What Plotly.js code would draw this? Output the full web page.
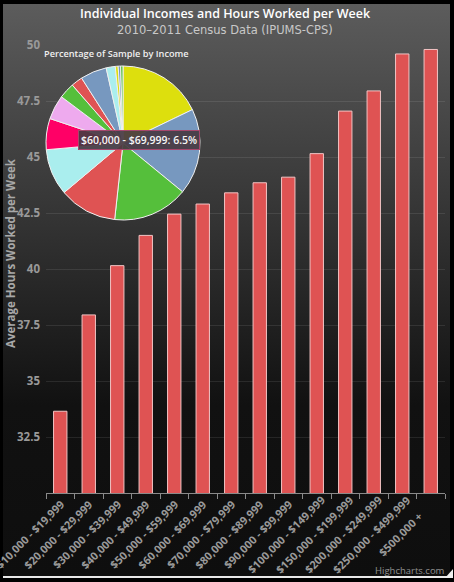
<!DOCTYPE html>
<html>
<head>
<meta charset="utf-8">
<script src="https://cdn.plot.ly/plotly-3.0.1.min.js"></script>
<style>html,body{margin:0;padding:0;background:#000;}#chart{width:454px;height:582px;}</style>
</head>
<body>
<div id="chart"></div>
<script>
// ---- data ----
var categories = ["$10,000 - $19,999","$20,000 - $29,999","$30,000 - $39,999","$40,000 - $49,999",
  "$50,000 - $59,999","$60,000 - $69,999","$70,000 - $79,999","$80,000 - $89,999","$90,000 - $99,999",
  "$100,000 - $149,999","$150,000 - $199,999","$200,000 - $249,999","$250,000 - $499,999","$500,000 +"];
var avgHours = [33.65, 37.95, 40.15, 41.5, 42.45, 42.9, 43.4, 43.85, 44.1, 45.15, 47.05, 47.95, 49.6, 49.8];
var samplePct = [17.8, 18.0, 15.75, 12.1, 9.7, 6.5, 5.1, 3.3, 2.4, 5.5, 1.9, 0.6, 0.5, 0.5];
var yTicks = [32.5, 35, 37.5, 40, 42.5, 45, 47.5, 50];
var themeColors = ["#DDDF0D","#7798BF","#55BF3B","#DF5353","#aaeeee","#ff0066","#eeaaee","#55BF3B","#DF5353","#7798BF","#aaeeee"];
var tooltipIndex = 5;

// ---- geometry helpers (pixels -> paper) ----
var W = 454, H = 582, L = 46, R = 445, T = 45, B = 493;
var pw = R - L, ph = B - T;
function fx(x){ return (x - L) / pw; }
function fy(y){ return (B - y) / ph; }

var pieColors = categories.map(function(c, i){ return themeColors[i % themeColors.length]; });

var grad = "<svg xmlns='http://www.w3.org/2000/svg' width='447' height='573' preserveAspectRatio='none'>" +
  "<defs><linearGradient id='g' x1='0' y1='0' x2='0' y2='1'>" +
  "<stop offset='0' stop-color='rgb(92,92,92)'/><stop offset='0.7' stop-color='rgb(17,17,17)'/>" +
  "<stop offset='1' stop-color='rgb(14,14,14)'/></linearGradient></defs>" +
  "<rect width='447' height='573' fill='url(#g)'/></svg>";
var gradSrc = "data:image/svg+xml;charset=utf-8," + encodeURIComponent(grad);

var FONT = "Open Sans, DejaVu Sans, sans-serif";

var bars = {
  type: "bar", x: categories, y: avgHours,
  marker: { color: "#DF5353", line: { color: "#f2c4c4", width: 1 } },
  hoverinfo: "none", showlegend: false
};

var pie = {
  type: "pie", labels: categories, values: samplePct,
  sort: false, direction: "clockwise", rotation: 0,
  marker: { colors: pieColors, line: { color: "#f0f0f0", width: 1 } },
  textinfo: "none", hoverinfo: "none", showlegend: false,
  domain: { x: [fx(45), fx(200)], y: [fy(221), fy(65)] }
};

var annotations = [
  { text: "Individual Incomes and Hours Worked per Week", xref: "paper", yref: "paper",
    x: fx(225), y: fy(14), showarrow: false, xanchor: "center", yanchor: "middle",
    font: { size: 12.5, color: "#ffffff", family: FONT, weight: 600 } },
  { text: "2010–2011 Census Data (IPUMS-CPS)", xref: "paper", yref: "paper",
    x: fx(225), y: fy(29.5), showarrow: false, xanchor: "center", yanchor: "middle",
    font: { size: 11.5, color: "#c8c8c8", family: "DejaVu Sans, sans-serif" } },
  { text: "Percentage of Sample by Income", xref: "paper", yref: "paper",
    x: fx(42), y: fy(54), showarrow: false, xanchor: "left", yanchor: "middle",
    font: { size: 9.2, color: "#f0f0f0", family: FONT, weight: 600 } },
  { text: "Average Hours Worked per Week", xref: "paper", yref: "paper",
    x: fx(10), y: fy(253), showarrow: false, textangle: -90, xanchor: "center", yanchor: "middle",
    font: { size: 11.5, color: "#a8a8a8", family: FONT, weight: "bold" } },
  { text: categories[tooltipIndex] + ": " + samplePct[tooltipIndex] + "%", xref: "paper", yref: "paper",
    x: fx(139), y: fy(139.5), showarrow: false, xanchor: "center", yanchor: "middle",
    bgcolor: "rgba(72,58,66,0.92)", bordercolor: "#a5476d", borderwidth: 1, borderpad: 2,
    font: { size: 10.5, color: "#f6f6f6", family: FONT, weight: 600 } },
  { text: "Highcharts.com", xref: "paper", yref: "paper",
    x: fx(447), y: fy(570), showarrow: false, xanchor: "right", yanchor: "middle",
    font: { size: 9.5, color: "#909090", family: FONT } }
];
// category labels, rotated, centred below each category like the original
categories.forEach(function(c){
  annotations.push({ text: c, xref: "x", yref: "paper", x: c, y: fy(534), xshift: -31,
    showarrow: false, textangle: -45, xanchor: "center", yanchor: "middle",
    font: { size: 11, color: "#9a9a9a", family: FONT, weight: "bold" } });
});

var layout = {
  width: W, height: H,
  margin: { l: L, r: W - R, t: T, b: H - B, pad: 0 },
  paper_bgcolor: "#000", plot_bgcolor: "rgba(0,0,0,0)",
  font: { family: FONT, color: "#999" },
  bargap: 0.53,
  images: [{ source: gradSrc, xref: "paper", yref: "paper", x: fx(3), y: fy(4),
    sizex: 447 / pw, sizey: 573 / ph, sizing: "stretch", xanchor: "left", yanchor: "top", layer: "below" }],
  xaxis: {
    type: "category", range: [-0.5, categories.length - 0.5],
    showline: true, linecolor: "#8a8a8a", linewidth: 1,
    ticks: "outside", tickson: "boundaries", ticklen: 5, tickcolor: "#8a8a8a",
    showticklabels: false, showgrid: false, fixedrange: true
  },
  yaxis: {
    range: [30, 50], tickvals: yTicks, ticktext: yTicks.map(String),
    showgrid: true, gridcolor: "rgba(255,255,255,0.09)", gridwidth: 1,
    zeroline: false, showline: false, ticks: "",
    tickfont: { size: 11.5, color: "#999", weight: "bold", family: FONT },
    ticklabelstandoff: 5, fixedrange: true
  },
  shapes: [
    { type: "line", xref: "paper", yref: "paper", x0: fx(3), x1: fx(451), y0: fy(577), y1: fy(577),
      line: { color: "#e8e8e8", width: 2 } },
    { type: "path", xref: "paper", yref: "paper",
      path: "M " + fx(445) + " " + fy(578) + " L " + fx(453) + " " + fy(578) + " L " + fx(453) + " " + fy(569) + " Z",
      fillcolor: "#f0f0f0", line: { width: 0 } }
  ],
  annotations: annotations
};

Plotly.newPlot("chart", [bars, pie], layout, { displayModeBar: false, staticPlot: true });
</script>
</body>
</html>
